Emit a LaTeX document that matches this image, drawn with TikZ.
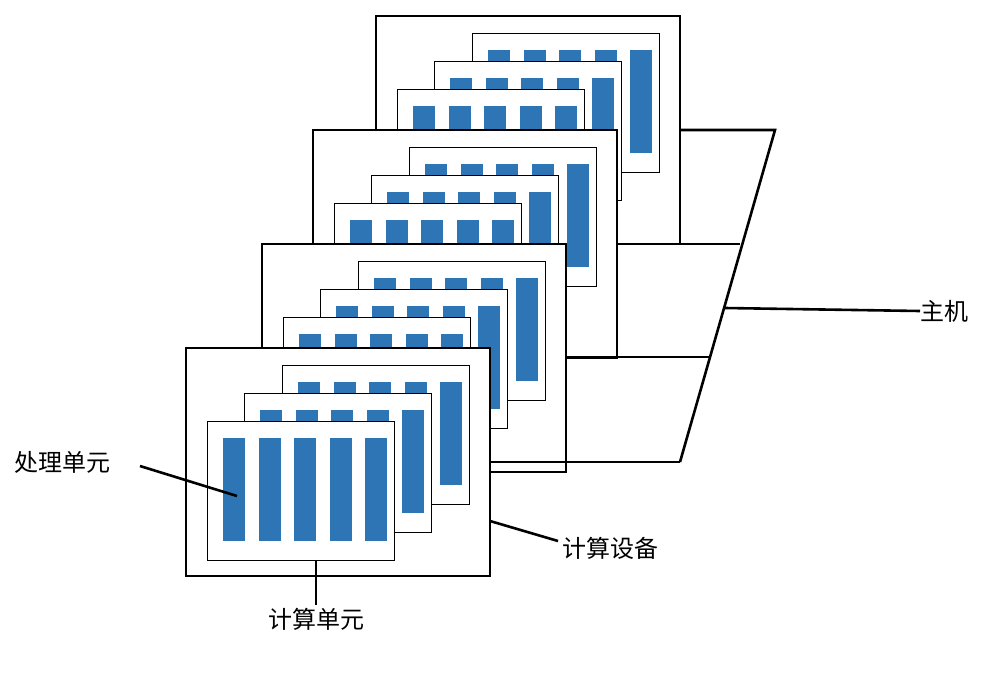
\documentclass[tikz,border=0pt]{standalone}
\usepackage{fontspec}
\newfontfamily\cjk{Noto Sans CJK SC}
\definecolor{pu}{HTML}{2E75B6}
\begin{document}
\begin{tikzpicture}[x=1pt,y=-1pt,
  devbox/.style={draw=black,line width=2.6pt,fill=white},
  unitbox/.style={draw=black,line width=1pt,fill=white},
  bar/.style={fill=pu,draw=none},
  conn/.style={draw=black,line width=2.6pt},
  lbl/.style={font=\cjk\fontsize{24}{24}\selectfont,inner sep=0pt}]
\useasboundingbox (0,0) rectangle (988,689);
\newcommand{\cunit}[2]{%
  \draw[unitbox] (#1,#2) rectangle ++(187,139);
  \foreach \i in {0,...,4} \fill[bar] ({#1+16+35.5*\i},{#2+17}) rectangle ++(22,103);}
\newcommand{\cdev}[3]{%
  \draw[devbox] (#1,#2) rectangle ++(304,228) node[coordinate](#3){};
  \cunit{#1+96}{#2+17}\cunit{#1+58}{#2+45}\cunit{#1+21}{#2+73}}
% host connectors (behind devices)
\coordinate (h1) at (680,130); \coordinate (h2) at (775,130);
\coordinate (h3) at (680,462);
\coordinate (m1) at (740,244); \coordinate (m2) at (710,357);
\coordinate (hc) at (725,308); \coordinate (he) at (920,311);
\cdev{376}{16}{d4}
\draw[conn] (680,130) -- (h2) -- (680,462);
\draw[conn] (617,244) -- (m1);
\cdev{313}{130}{d3}
\draw[conn] (566,357) -- (m2);
\cdev{262}{244}{d2}
\cdev{186}{348}{d1}
\draw[conn] (490,462) -- (h3);
\draw[conn] (hc) -- (he);
\node[lbl,anchor=west] (host) at (920,311) {主机};
\node[lbl] (pul) at (62,462) {处理单元};
\coordinate (pa) at (140,466); \coordinate (pb) at (237,496);
\draw[conn] (pa) -- (pb);
\node[lbl,anchor=west] (devl) at (562,548) {计算设备};
\coordinate (da) at (490,521); \coordinate (db) at (558,541);
\draw[conn] (da) -- (db);
\node[lbl] (cul) at (316,619) {计算单元};
\coordinate (ca) at (316,560); \coordinate (cb) at (316,605);
\draw[conn] (ca) -- (cb);
\end{tikzpicture}
\end{document}
